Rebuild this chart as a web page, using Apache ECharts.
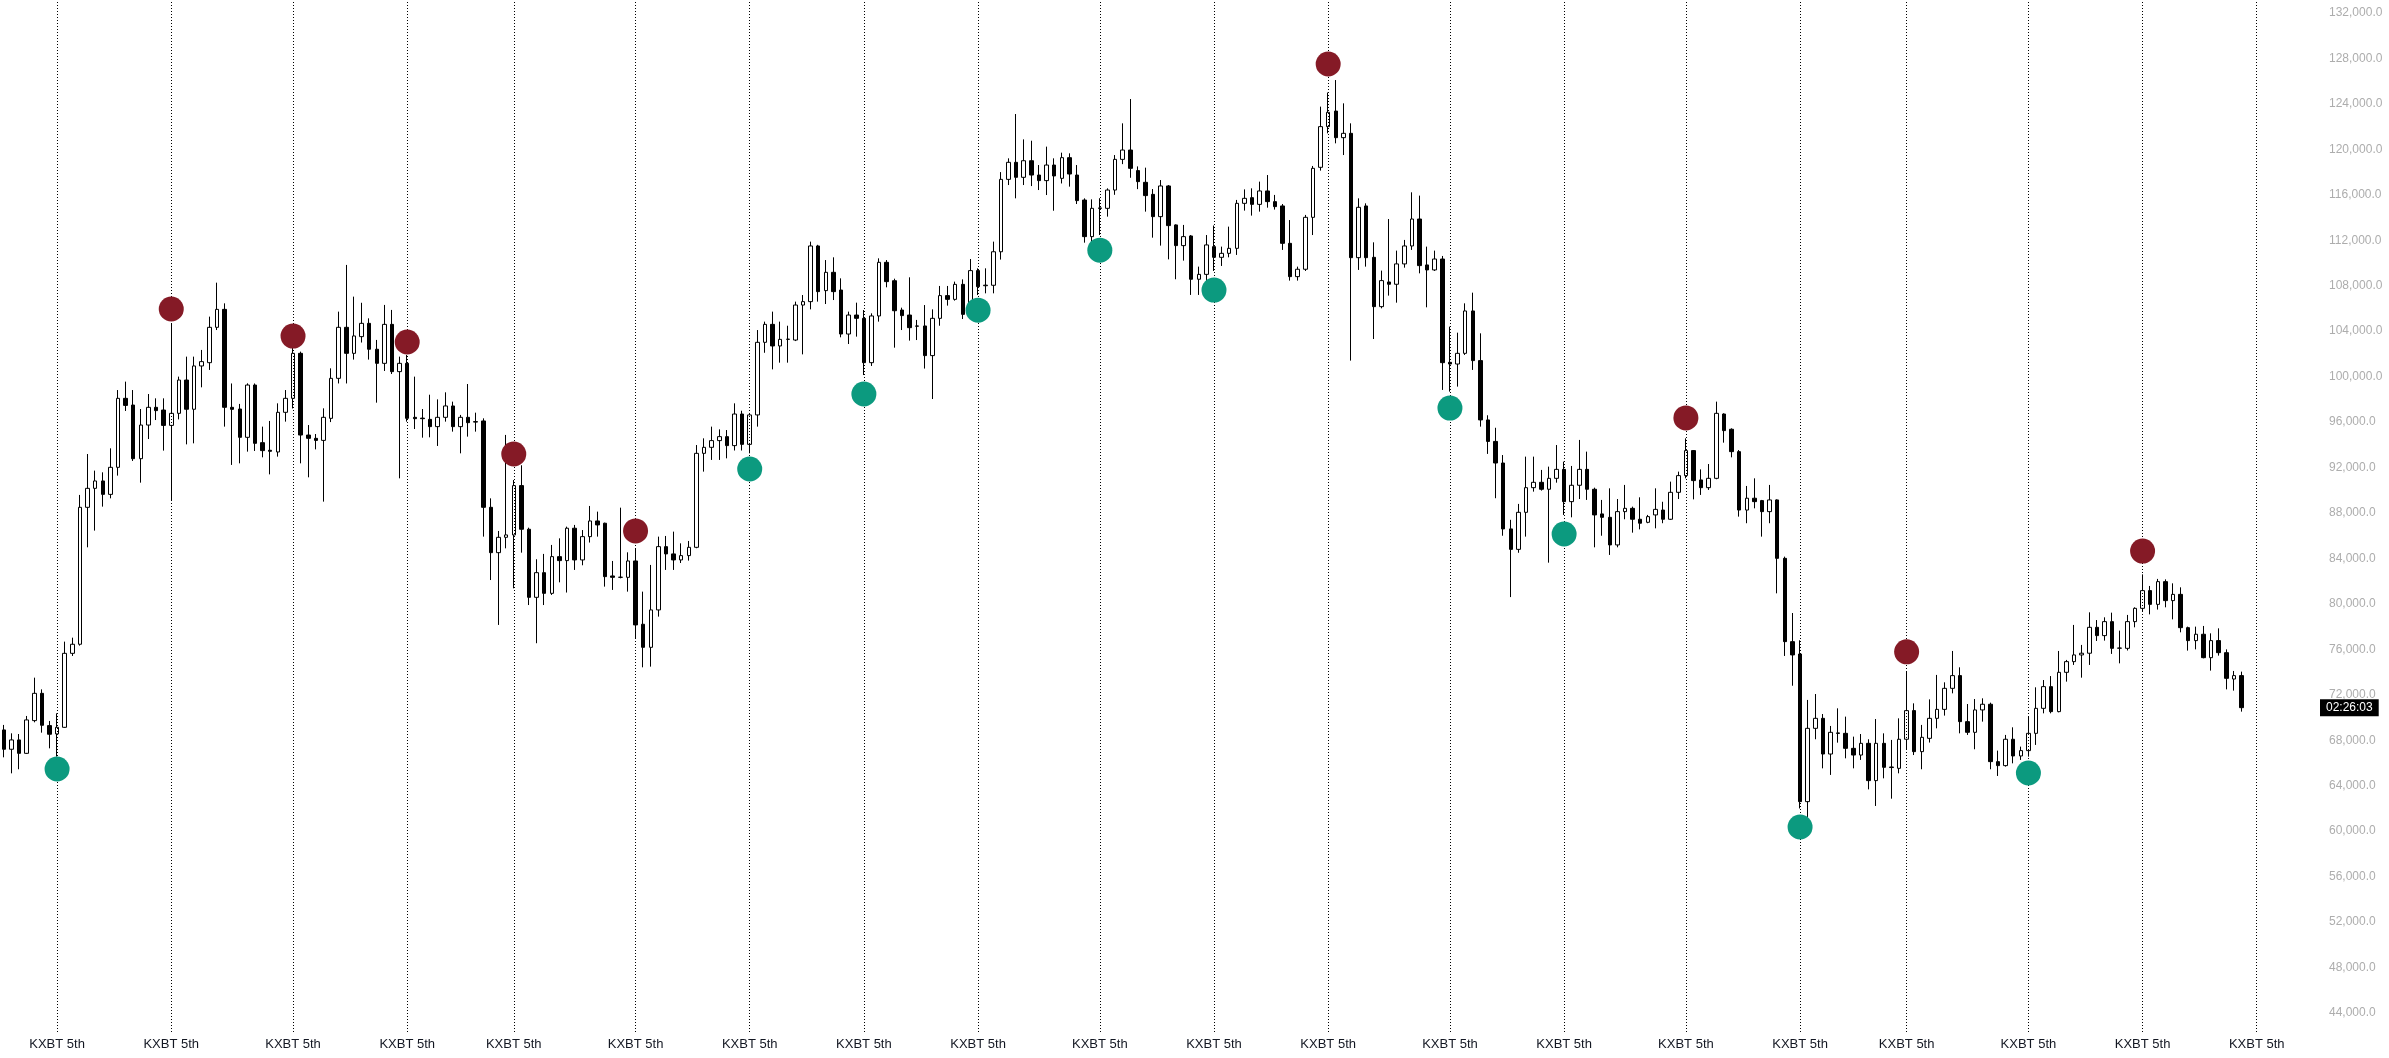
<!DOCTYPE html>
<html>
<head>
<meta charset="utf-8">
<title>KXBT</title>
<script src="https://cdn.jsdelivr.net/npm/echarts@6.0.0/dist/echarts.min.js"></script>
<style>
  html, body { margin: 0; padding: 0; background: #fff; }
  #chart { width: 2389px; height: 1058px; }
</style>
</head>
<body>
<div id="chart" class="js-chart"></div>
<script>
// 2-day candles, prices in thousands: [open, close, low, high]
var candles = [
  [68.91,67.21,66.50,69.35],[67.21,68.03,65.09,68.61],[68.03,66.85,65.45,68.55],[66.85,69.79,66.80,70.14],[69.73,72.13,69.58,73.51],
  [72.13,69.32,68.67,72.48],[69.29,68.53,67.29,69.70],[68.56,69.14,66.56,70.37],[69.14,75.65,69.10,76.68],[75.65,76.45,75.42,77.03],
  [76.45,88.50,76.33,89.59],[88.50,90.17,84.98,93.19],[90.17,90.82,86.45,91.73],[90.82,89.64,88.56,91.58],[89.64,92.02,89.29,93.69],
  [92.02,98.09,91.29,98.82],[98.09,97.47,96.98,99.56],[97.50,92.78,92.58,98.82],[92.78,95.74,90.67,97.15],[95.74,97.30,94.51,98.47],
  [97.30,97.01,96.18,98.09],[97.06,95.71,93.49,98.09],[95.71,96.77,89.09,104.69],[96.77,99.70,96.24,100.00],[99.70,97.13,94.04,101.76],
  [97.13,100.94,94.13,101.76],[100.94,101.32,99.06,102.35],[101.23,104.34,100.59,105.28],[104.34,105.92,104.10,108.27],[105.92,97.30,95.60,106.45],
  [97.30,97.12,92.23,99.40],[97.15,94.66,92.37,97.60],[94.66,99.26,93.40,99.41],[99.26,94.13,93.46,99.40],[94.19,93.49,92.90,95.60],
  [93.52,93.43,91.40,96.10],[93.37,96.86,92.96,97.65],[96.86,98.09,96.04,98.82],[98.09,102.05,97.20,102.60],[102.05,94.86,92.37,102.20],
  [94.86,94.57,91.14,95.74],[94.57,94.39,93.60,94.95],[94.39,96.42,89.00,97.21],[96.33,99.85,96.00,100.73],[99.85,104.34,99.40,105.72],
  [104.34,102.05,99.40,109.83],[102.05,103.58,101.50,107.04],[103.52,104.69,103.00,106.50],[104.69,102.41,101.50,105.13],[102.41,101.17,97.71,103.23],
  [101.17,104.60,100.50,106.31],[104.60,100.44,100.23,105.87],[100.44,101.17,91.05,101.76],[101.17,96.33,96.04,101.90],[96.42,96.30,95.39,100.00],
  [96.35,96.30,94.63,97.15],[96.24,95.60,94.66,98.41],[95.60,96.42,93.90,98.00],[96.42,97.42,96.04,98.62],[97.42,95.60,95.16,97.80],
  [95.60,96.42,93.25,96.63],[96.42,95.95,94.72,99.35],[96.04,96.00,95.16,96.83],[96.10,88.50,85.92,96.33],[88.50,84.51,82.10,89.29],
  [84.51,85.86,78.15,86.42],[85.86,86.07,84.89,94.87],[86.07,90.41,81.37,90.90],[90.41,86.57,84.51,92.20],[86.57,80.58,79.90,86.71],
  [80.58,82.75,76.54,83.93],[82.75,80.93,79.90,84.40],[80.93,84.16,80.79,85.19],[84.16,83.81,81.90,85.77],[83.81,86.66,81.00,86.80],
  [86.66,83.87,82.99,86.95],[83.87,85.92,83.40,86.50],[85.92,87.30,85.40,88.62],[87.30,86.95,85.92,88.12],[87.10,82.40,81.52,87.15],
  [82.46,82.34,81.23,83.78],[82.34,82.35,82.25,88.47],[82.34,83.78,81.08,84.54],[83.78,78.15,76.98,84.90],[78.21,76.18,74.42,81.08],
  [76.18,79.47,74.48,83.43],[79.47,85.04,78.88,85.92],[85.04,84.40,82.99,85.98],[84.40,83.87,82.99,86.36],[83.87,84.25,83.60,85.33],
  [84.25,84.98,83.81,85.54],[84.98,93.25,84.90,93.98],[93.25,93.78,91.64,94.57],[93.78,94.37,92.67,95.60],[94.37,94.72,92.67,95.36],
  [94.72,93.93,92.81,95.30],[93.93,96.71,93.50,97.65],[96.71,94.04,93.50,97.00],[94.04,96.63,93.25,96.77],[96.63,103.02,95.60,104.10],
  [103.02,104.60,102.10,104.84],[104.60,102.70,100.64,105.72],[102.70,103.28,101.23,104.84],[103.28,103.30,101.23,104.48],[103.22,106.30,103.13,106.60],
  [106.30,106.60,101.96,107.18],[106.60,111.50,105.92,111.88],[111.50,107.48,106.60,111.60],[107.57,109.18,106.39,110.26],[109.18,107.48,106.74,110.50],
  [107.62,103.75,103.46,108.65],[103.75,105.42,102.87,105.72],[105.42,105.13,103.52,106.51],[105.13,101.23,100.14,105.86],[101.23,105.34,100.94,105.57],
  [105.34,110.06,104.84,110.41],[110.06,108.36,107.86,110.26],[108.44,105.80,102.55,108.62],[105.86,105.37,104.10,106.07],[105.42,104.31,103.17,108.74],
  [104.46,104.44,103.22,104.99],[104.46,101.85,100.71,106.30],[101.85,105.13,98.03,105.92],[105.13,107.13,104.48,107.98],[107.13,106.80,106.25,107.98],
  [106.80,108.12,106.69,108.36],[108.12,105.48,105.07,108.56],[105.48,109.33,105.20,110.35],[109.33,107.92,107.18,109.53],[108.00,108.05,107.33,109.53],
  [108.04,110.99,107.33,111.88],[110.99,117.36,110.30,118.00],[117.36,118.86,116.86,119.21],[118.86,117.54,115.69,123.11],[117.54,119.00,116.86,120.88],
  [119.00,117.74,116.77,120.76],[117.74,117.25,116.42,118.62],[117.25,118.62,115.98,120.24],[118.62,117.66,114.60,119.21],[117.45,119.27,117.00,119.71],
  [119.27,117.83,116.72,119.65],[117.74,115.49,115.19,118.62],[115.54,112.32,111.79,115.69],[112.32,114.81,111.79,115.60],[114.80,114.85,112.46,115.70],
  [114.81,116.42,114.08,116.57],[116.42,119.12,116.00,119.50],[119.12,119.94,118.70,122.29],[119.94,118.33,117.50,124.43],[118.13,117.16,116.50,118.50],
  [117.10,115.93,114.52,118.39],[116.04,114.08,112.23,116.51],[114.08,116.78,111.53,117.30],[116.78,113.29,110.32,116.86],[113.35,111.53,108.57,113.40],
  [111.53,112.32,110.21,113.35],[112.38,108.57,107.19,112.46],[108.57,109.00,107.19,109.68],[109.00,111.59,107.19,112.46],[111.44,110.50,109.30,113.30],
  [110.50,110.85,109.74,111.44],[110.85,111.29,110.50,113.20],[111.29,115.25,110.71,115.55],[115.25,115.69,114.61,116.48],[115.75,115.16,114.17,116.57],
  [115.16,116.34,114.52,117.16],[116.34,115.40,114.87,117.74],[115.40,114.96,114.70,115.99],[115.02,111.73,111.15,115.19],[111.73,108.80,108.45,113.78],
  [108.80,109.45,108.45,109.68],[109.45,114.02,109.30,114.23],[114.02,118.33,112.46,118.54],[118.42,122.00,118.13,123.76],[122.00,123.26,121.41,125.00],
  [123.37,121.03,120.53,126.10],[121.03,121.41,119.50,124.05],[121.41,110.47,101.41,122.29],[110.47,114.90,109.39,115.69],[115.02,110.47,109.68,115.25],
  [110.50,106.16,103.31,111.82],[106.16,108.45,106.01,109.33],[108.33,108.13,107.13,113.87],[108.13,109.92,106.51,111.09],[109.92,111.50,109.59,112.03],
  [111.50,113.87,111.15,116.22],[113.87,109.77,109.09,115.93],[109.83,109.39,106.10,111.44],[109.39,110.35,109.30,111.09],[110.35,101.23,98.83,110.62],
  [101.26,101.11,98.68,104.40],[101.11,102.05,99.12,103.87],[102.05,105.78,101.91,106.45],[105.78,101.41,100.59,107.39],[101.41,96.19,95.60,103.81],
  [96.19,94.30,93.20,96.60],[94.30,92.40,89.30,95.50],[92.40,86.60,86.00,93.10],[86.60,84.80,80.60,87.40],[84.80,88.06,84.50,88.80],
  [88.06,90.23,85.92,92.96],[90.23,90.70,89.88,92.96],[90.70,90.09,89.97,91.79],[90.09,91.05,83.63,92.08],[91.05,91.84,90.67,93.98],
  [91.84,89.00,87.83,92.52],[89.00,90.44,87.62,92.14],[90.44,91.84,89.23,94.43],[91.84,90.09,89.15,93.40],[90.09,87.83,84.98,90.23],
  [87.92,87.62,86.00,89.15],[87.62,85.19,84.31,90.17],[85.19,88.12,84.98,89.23],[88.12,88.41,87.45,90.47],[88.41,87.45,86.27,88.56],
  [87.45,87.10,86.56,89.38],[87.18,87.68,87.10,87.83],[87.83,88.32,86.65,90.17],[88.26,87.45,87.10,88.99],[87.45,89.82,87.39,90.76],
  [89.82,91.29,89.23,91.64],[91.29,93.49,91.05,94.57],[93.49,90.85,89.20,93.54],[90.91,90.23,89.59,91.84],[90.23,91.05,90.03,92.31],
  [91.05,96.77,90.97,97.80],[96.71,95.25,94.19,96.77],[95.37,93.40,92.90,95.45],[93.40,88.26,87.68,93.54],[88.26,89.30,87.10,90.38],
  [89.30,89.00,88.41,91.05],[89.09,88.12,85.92,89.15],[88.12,89.15,87.10,90.47],[89.15,84.01,80.93,89.20],[84.01,76.68,75.42,84.16],
  [76.68,75.51,72.80,79.20],[75.59,62.60,62.00,76.80],[62.60,69.05,59.75,71.55],[69.05,69.93,68.09,72.07],[69.93,66.79,65.53,70.31],
  [66.79,68.70,64.95,69.26],[68.60,68.65,67.79,70.81],[68.61,67.29,66.41,70.08],[67.29,66.70,65.53,68.32],[66.70,67.73,66.27,68.55],
  [67.73,64.45,63.68,68.09],[64.45,67.73,62.22,69.87],[67.73,65.62,64.65,68.61],[65.60,65.65,62.86,68.03],[65.53,68.09,65.09,69.93],
  [68.09,70.61,67.20,74.04],[70.61,67.00,66.70,71.25],[67.00,68.26,65.45,69.35],[68.17,69.93,67.80,71.60],[69.93,70.72,69.05,73.75],
  [70.72,72.57,70.17,73.10],[72.57,73.69,72.13,75.86],[73.69,69.64,68.61,74.42],[69.64,68.70,68.47,71.19],[68.70,70.67,67.21,71.63],
  [70.67,71.17,69.64,71.69],[71.17,66.12,65.45,71.31],[66.12,65.77,64.86,67.09],[65.77,68.09,65.68,68.47],[68.09,66.62,65.97,69.14],
  [66.62,67.09,66.27,67.44],[67.09,68.61,66.56,70.08],[68.61,70.81,67.59,72.66],[70.81,72.72,70.37,73.30],[72.72,70.52,70.37,73.65],
  [70.52,73.98,70.46,75.86],[73.98,74.92,73.16,75.07],[74.92,75.51,74.63,78.15],[75.51,75.66,73.51,76.39],[75.66,77.94,74.63,79.26],
  [77.94,77.21,76.74,78.58],[77.21,78.44,76.77,78.82],[78.44,76.09,75.60,79.23],[76.10,76.12,74.77,77.65],[76.09,78.44,75.90,79.03],
  [78.44,79.61,77.94,79.70],[79.61,81.17,79.30,82.60],[81.17,79.96,79.08,81.58],[79.96,81.96,79.50,82.20],[81.96,80.29,79.70,82.16],
  [80.29,80.84,78.64,81.81],[80.84,77.91,77.50,81.46],[77.91,76.77,75.89,78.00],[76.77,77.33,76.00,78.00],[77.33,75.27,75.21,78.06],
  [75.27,76.77,74.13,77.41],[76.77,75.71,75.45,77.85],[75.71,73.45,72.48,76.00],[73.39,73.69,72.37,74.10],[73.69,70.87,70.52,74.04]
];

// candle index of each "5th of the month" line
var monthIdx = [7, 22, 38, 53, 67, 83, 98, 113, 128, 144, 159, 174, 190, 205, 221, 236, 250, 266, 281, 296];
var monthLabels = monthIdx.map(function () { return 'KXBT 5th'; });

// markers: [candle index, price in thousands]
var redDots = [[22, 105.95], [38, 103.57], [53, 103.05], [67, 93.19], [83, 86.42], [174, 127.51], [221, 96.37], [250, 75.78], [281, 84.65]];
var greenDots = [[7, 65.47], [98, 91.87], [113, 98.47], [128, 105.85], [144, 111.13], [159, 107.62], [190, 97.23], [205, 86.15], [236, 60.37], [266, 65.12]];

var priceMin = 44000;
var priceMax = 132000;
var priceStep = 4000;
var countdown = '02:26:03';

var slotCount = 301;
var categories = [];
for (var i = 0; i < slotCount; i++) {
    categories.push(i);
}

var candleData = candles.map(function (c) {
    return [c[0] * 1000, c[1] * 1000, c[2] * 1000, c[3] * 1000];
});
var lastClose = candleData[candleData.length - 1][1];

var element = document.querySelector('.js-chart');
var myChart = echarts.init(element);

var option = {
    backgroundColor: '#ffffff',
    animation: false,
    grid: [
        { left: 0, right: 98, top: 13, height: 1000 },
        { left: 0, right: 98, top: 0, bottom: 26 }
    ],
    xAxis: [
        { type: 'category', gridIndex: 0, data: categories, show: false },
        { type: 'category', gridIndex: 1, data: categories, show: false }
    ],
    yAxis: [
        {
            type: 'value',
            gridIndex: 0,
            position: 'right',
            min: priceMin,
            max: priceMax,
            interval: priceStep,
            axisLine: { show: false },
            axisTick: { show: false },
            splitLine: { show: false },
            axisLabel: {
                margin: 38,
                color: '#adadad',
                fontFamily: 'Liberation Sans',
                fontSize: 12,
                formatter: function (v) {
                    return v.toLocaleString('en-US', { minimumFractionDigits: 1, maximumFractionDigits: 1 });
                }
            }
        },
        { type: 'value', gridIndex: 1, min: 0, max: 1, show: false }
    ],
    series: [
        {
            name: 'months',
            type: 'line',
            xAxisIndex: 1,
            yAxisIndex: 1,
            data: [],
            silent: true,
            markLine: {
                silent: true,
                symbol: 'none',
                animation: false,
                lineStyle: { color: '#000000', width: 1, type: [1, 2] },
                label: {
                    show: true,
                    position: 'start',
                    distance: 6,
                    formatter: '{b}',
                    color: '#131722',
                    fontFamily: 'Liberation Sans',
                    fontSize: 13
                },
                emphasis: { disabled: true },
                data: monthIdx.map(function (idx, k) {
                    return { xAxis: idx, name: monthLabels[k] };
                })
            }
        },
        {
            name: 'KXBT',
            type: 'candlestick',
            xAxisIndex: 0,
            yAxisIndex: 0,
            data: candleData,
            barWidth: 4,
            itemStyle: {
                color: '#ffffff',
                color0: '#000000',
                borderColor: '#000000',
                borderColor0: '#000000',
                borderWidth: 1
            },
            markLine: {
                silent: true,
                symbol: 'none',
                animation: false,
                lineStyle: { width: 0, color: 'transparent' },
                label: {
                    show: true,
                    position: 'end',
                    distance: 29,
                    formatter: countdown,
                    color: '#ffffff',
                    backgroundColor: '#000000',
                    padding: [2, 6],
                    fontFamily: 'Liberation Sans',
                    fontSize: 12,
                    lineHeight: 13
                },
                data: [{ yAxis: lastClose }]
            }
        },
        {
            name: 'top',
            type: 'scatter',
            xAxisIndex: 0,
            yAxisIndex: 0,
            symbolSize: 25,
            z: 5,
            itemStyle: { color: '#851a26', opacity: 1 },
            data: redDots.map(function (d) { return [d[0], d[1] * 1000]; })
        },
        {
            name: 'bottom',
            type: 'scatter',
            xAxisIndex: 0,
            yAxisIndex: 0,
            symbolSize: 25,
            z: 5,
            itemStyle: { color: '#0c9a7f', opacity: 1 },
            data: greenDots.map(function (d) { return [d[0], d[1] * 1000]; })
        }
    ]
};

myChart.setOption(option);
</script>
</body>
</html>
